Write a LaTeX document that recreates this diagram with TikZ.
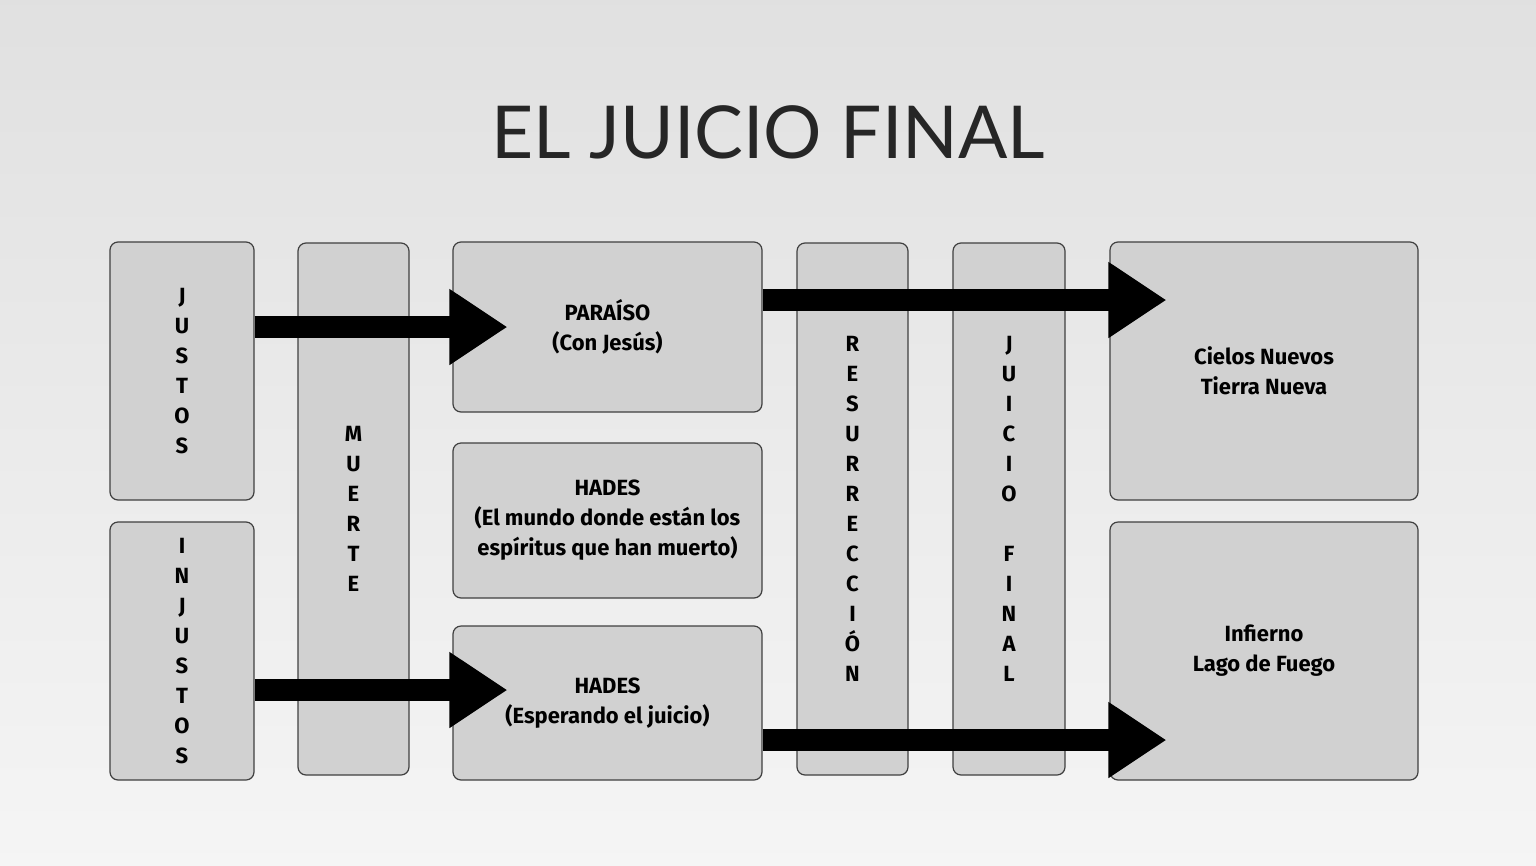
\documentclass[tikz,border=0pt]{standalone}
\usepackage{fontspec}
\setmainfont{Fira Sans}
\newfontfamily\titlefont{Lato}
\usetikzlibrary{arrows.meta}
\begin{document}
\begin{tikzpicture}[
        x=1pt, y=-1pt,
        box/.style={
            rectangle,
            rounded corners=8pt,
            draw=black!75,
            line width=1.2pt,
            fill=black!18,
            align=center,
            font=\fontsize{22}{30}\selectfont\bfseries,
            inner sep=0pt
        },
        fat/.style={
            line width=22pt,
            -{Triangle[length=58pt,width=72pt]}
        },
    ]
        \shade[top color=black!12, bottom color=black!4] (0,0) rectangle (1536,865);
        \node [font=\titlefont\fontsize{73}{73}\selectfont, text=black!85] (title) at (768,132) {EL JUICIO FINAL};
        % columna izquierda
        \node [box, minimum width=144pt, minimum height=258pt] (justos) at (182,371) {J\\U\\S\\T\\O\\S};
        \node [box, minimum width=144pt, minimum height=258pt] (injustos) at (182,651) {I\\N\\J\\U\\S\\T\\O\\S};
        \node [box, minimum width=111pt, minimum height=532pt] (muerte) at (353.5,509) {M\\U\\E\\R\\T\\E};
        % estados intermedios
        \node [box, minimum width=309pt, minimum height=170pt] (paraiso) at (607.5,327) {PARAÍSO\\(Con Jesús)};
        \node [box, minimum width=309pt, minimum height=155pt] (hades) at (607.5,520.5) {HADES\\(El mundo donde están los\\espíritus que han muerto)};
        \node [box, minimum width=309pt, minimum height=154pt] (espera) at (607.5,703) {HADES\\(Esperando el juicio)};
        \node [box, minimum width=111pt, minimum height=532pt] (resurreccion) at (852.5,509) {R\\E\\S\\U\\R\\R\\E\\C\\C\\I\\Ó\\N};
        \node [box, minimum width=112pt, minimum height=532pt] (juicio) at (1009,509) {J\\U\\I\\C\\I\\O\\ \\F\\I\\N\\A\\L};
        % destinos
        \node [box, minimum width=308pt, minimum height=258pt] (cielos) at (1264,371) {Cielos Nuevos\\Tierra Nueva};
        \node [box, minimum width=308pt, minimum height=258pt] (infierno) at (1264,651) {Infierno\\Lago de Fuego};
        \coordinate (arriba) at ([yshift=27pt]paraiso.east);
        \coordinate (abajo) at ([yshift=-37pt]espera.east);
        \draw [fat] (justos.east |- paraiso) -- ([xshift=55pt]paraiso.west);
        \draw [fat] ([yshift=13pt]injustos.east |- espera) -- ([shift={(55pt,13pt)}]espera.west);
        \draw [fat] (arriba) -- ([xshift=57pt]cielos.west |- arriba);
        \draw [fat] (abajo) -- ([xshift=57pt]infierno.west |- abajo);
    \end{tikzpicture}
\end{document}
